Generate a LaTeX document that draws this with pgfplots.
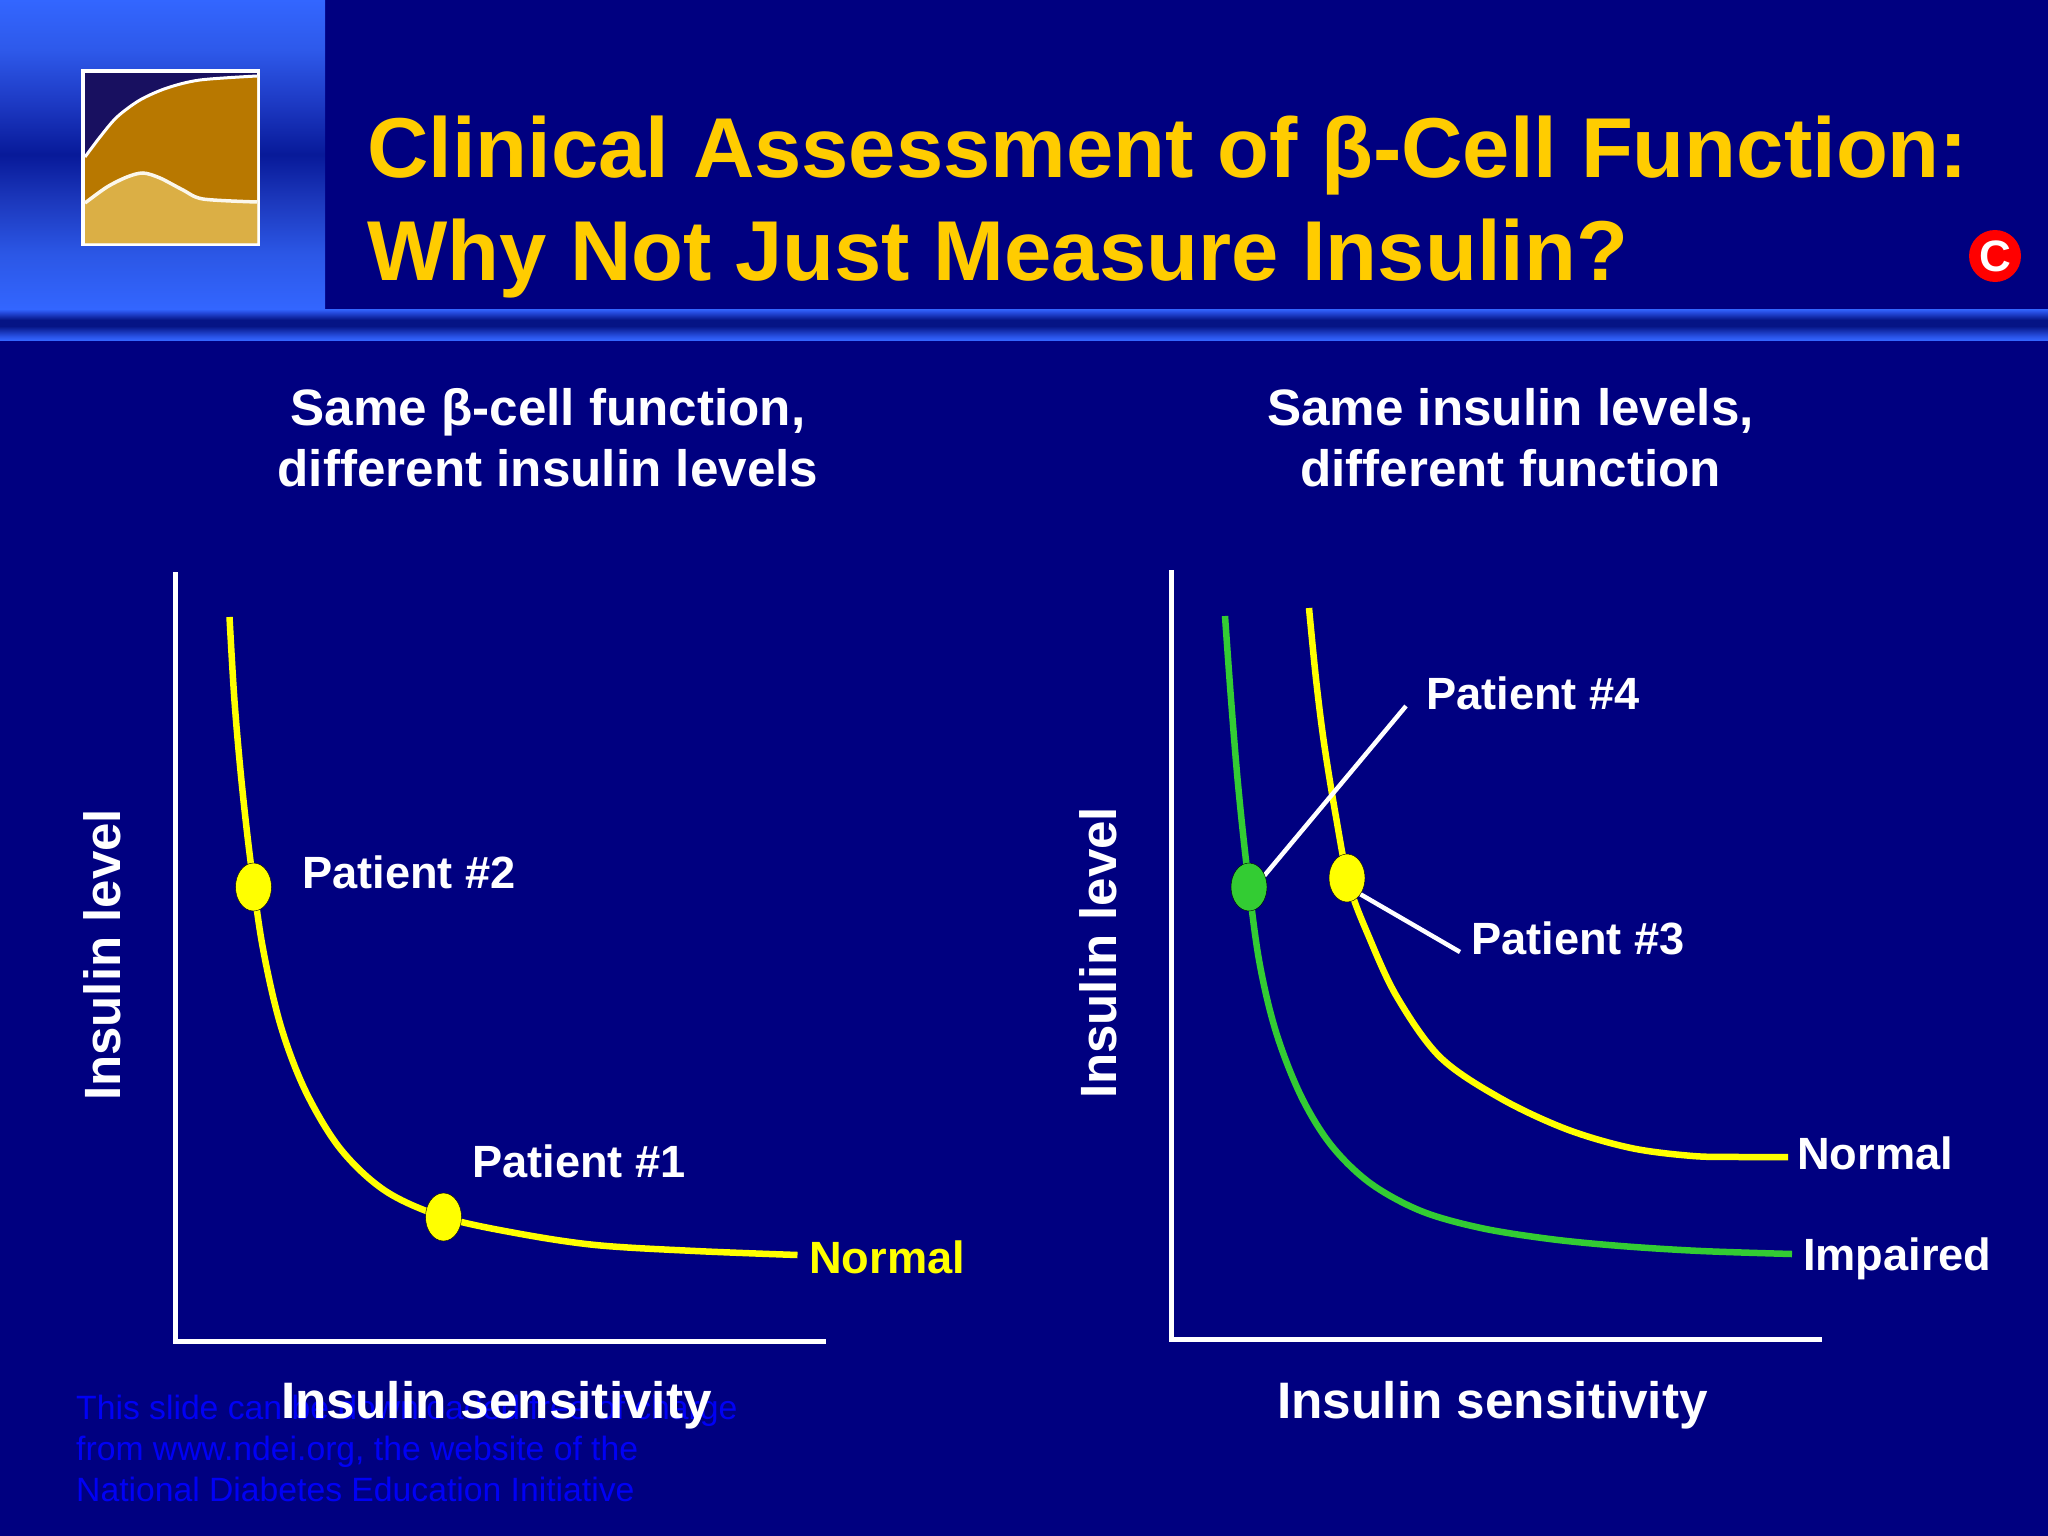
\documentclass[border=0pt]{standalone}
\usepackage{pgfplots}
\pgfplotsset{compat=1.18}
\usepackage{fontspec}
\setmainfont{Liberation Sans}
\definecolor{slidenavy}{RGB}{0,0,128}
\definecolor{titleyellow}{RGB}{255,204,0}
\definecolor{curveyellow}{RGB}{255,255,0}
\definecolor{curvegreen}{RGB}{51,204,51}
\definecolor{wm}{RGB}{0,0,245}
\definecolor{logodark}{RGB}{24,16,96}
\definecolor{logoorange}{RGB}{184,120,0}
\definecolor{logogold}{RGB}{219,175,69}
\pgfdeclareverticalshading{sidepanel}{100bp}{
  rgb(0bp)=(0.20,0.40,1.00);
  rgb(25bp)=(0.20,0.40,1.00);
  rgb(34bp)=(0.17,0.34,0.90);
  rgb(42.5bp)=(0.11,0.22,0.74);
  rgb(50bp)=(0.03,0.10,0.60);
  rgb(58bp)=(0.11,0.22,0.76);
  rgb(67bp)=(0.18,0.35,0.92);
  rgb(75bp)=(0.20,0.40,1.00);
  rgb(100bp)=(0.20,0.40,1.00)}
\pgfdeclareverticalshading{sideband}{100bp}{
  rgb(0bp)=(0.20,0.40,1.00);
  rgb(25bp)=(0.20,0.40,1.00);
  rgb(31bp)=(0.16,0.32,0.90);
  rgb(47.5bp)=(0.02,0.08,0.52);
  rgb(57.5bp)=(0.02,0.08,0.52);
  rgb(70bp)=(0.15,0.30,0.88);
  rgb(75bp)=(0.20,0.40,1.00);
  rgb(100bp)=(0.20,0.40,1.00)}
\newcommand{\fs}[1]{\fontsize{#1}{#1}\selectfont}
\pgfplotsset{
  slidepanel/.style={
    scale only axis, width=648pt, height=767pt,
    xmin=0, xmax=648, ymin=0, ymax=767,
    axis lines=left, ticks=none, clip=false,
    axis line style={-, white, line width=5pt, line cap=rect},
    every axis y label/.style={at={(axis cs:-55,386)}, anchor=base, rotate=90, font=\fs{51}\bfseries, text=white},
    xlabel={Insulin sensitivity}, ylabel={Insulin level},
  },
  curve/.style={no marks, smooth, tension=0.55, line width=6.5pt, line cap=butt},
  dot/.style={only marks, mark=*, mark size=24pt, mark options={xscale=0.75, draw=none, fill=#1}},
  leader/.style={no marks, white, line width=4.5pt},
}
\begin{document}
\begin{tikzpicture}
\useasboundingbox (0pt,0pt) rectangle (2048pt,-1536pt);
\begin{scope}[x=1pt,y=-1pt]
  \fill[slidenavy] (0,0) rectangle (2048,1536);
  \shade[shading=sidepanel] (0,0) rectangle (325,309);
  \shade[shading=sideband] (0,309) rectangle (2048,340);
  % logo
  \fill[white] (81,69) rectangle (260,246);
  \fill[logodark] (85,73) rectangle (257,243);
  \fill[logoorange] plot[smooth] coordinates {(85,157) (100,137) (117,117) (140,100) (167,88) (200,80) (257,76)} -- (257,243) -- (85,243) -- cycle;
  \draw[white, line width=3pt] plot[smooth] coordinates {(85,157) (100,137) (117,117) (140,100) (167,88) (200,80) (257,76)};
  \fill[logogold] plot[smooth] coordinates {(85,203) (107,187) (127,177) (143,173) (160,178) (183,190) (203,199) (257,202)} -- (257,243) -- (85,243) -- cycle;
  \draw[white!90!logogold, line width=3.5pt] plot[smooth] coordinates {(85,203) (107,187) (127,177) (143,173) (160,178) (183,190) (203,199) (257,202)};
  % title
  \node[anchor=base west, inner sep=0pt, text=titleyellow, font=\fs{85}\bfseries] at (367,178) {Clinical Assessment of β-Cell Function:};
  \node[anchor=base west, inner sep=0pt, text=titleyellow, font=\fs{85}\bfseries] at (367,280) {Why Not Just Measure Insulin?};
  % copyright badge
  \fill[red] (1995,256) circle (26);
  \node[text=white, inner sep=0pt, font=\fs{44}\bfseries] at (1995,256) {C};
  % watermark
  \node[anchor=base west, inner sep=0pt, text=wm, font=\fs{33.7}] at (76,1419.5) {This slide can be downloaded free of charge};
  \node[anchor=base west, inner sep=0pt, text=wm, font=\fs{33.7}] at (76,1460.5) {from www.ndei.org, the website of the};
  \node[anchor=base west, inner sep=0pt, text=wm, font=\fs{33.7}] at (76,1501.5) {National Diabetes Education Initiative};
  % subtitles
  \node[anchor=base, inner sep=0pt, text=white, font=\fs{51.2}\bfseries] at (548,425) {Same β-cell function,};
  \node[anchor=base, inner sep=0pt, text=white, font=\fs{51.2}\bfseries] at (548,486) {different insulin levels};
  \node[anchor=base, inner sep=0pt, text=white, font=\fs{51.2}\bfseries] at (1510.5,425) {Same insulin levels,};
  \node[anchor=base, inner sep=0pt, text=white, font=\fs{51.2}\bfseries] at (1510.5,486) {different function};
\end{scope}
% left panel
\begin{axis}[slidepanel, at={(175.5pt,-1341pt)}, anchor=origin,
    every axis x label/.style={at={(axis cs:321,-77)}, anchor=base, font=\fs{51.3}\bfseries, text=white}]
  \addplot[curve, curveyellow] coordinates {
    (54,724) (59,640) (66,560) (75,480) (87,395) (105,316) (130,250) (165,192)
    (210,150) (268,124) (340,108) (420,96) (520,90) (622,86)};
  \addplot[dot=curveyellow] coordinates {(78,454) (268,124)};
  \node[anchor=base west, inner sep=0pt, text=white, font=\fs{45.2}\bfseries] at (axis cs:126.5,453) {Patient \#2};
  \node[anchor=base west, inner sep=0pt, text=white, font=\fs{45.2}\bfseries] at (axis cs:296.5,164) {Patient \#1};
  \node[anchor=base west, inner sep=0pt, text=curveyellow, font=\fs{45.2}\bfseries] at (axis cs:633.5,68) {Normal};
\end{axis}
% right panel
\begin{axis}[slidepanel, at={(1171pt,-1339pt)}, anchor=origin,
    every axis x label/.style={at={(axis cs:321.5,-79.5)}, anchor=base, font=\fs{51.3}\bfseries, text=white}]
  \addplot[curve, curveyellow] coordinates {
    (138,731) (145,660) (153,596) (165,522) (178,455) (198,402) (226,342) (269,282)
    (329,241) (395,210) (460,191) (522,183) (570,182) (617,182)};
  \addplot[curve, curvegreen] coordinates {
    (54,723) (60,640) (67,555) (76,470) (88,379) (105,307) (130,243) (160,194)
    (199,156) (250,128) (310,111) (379,100) (450,93) (530,88) (621,85)};
  \addplot[leader] coordinates {(93,463) (235,633)};
  \addplot[leader] coordinates {(189,445) (289,387)};
  \addplot[dot=curvegreen] coordinates {(78,452)};
  \addplot[dot=curveyellow] coordinates {(176,461)};
  \node[anchor=base west, inner sep=0pt, text=white, font=\fs{45.2}\bfseries] at (axis cs:255,630) {Patient \#4};
  \node[anchor=base west, inner sep=0pt, text=white, font=\fs{45.2}\bfseries] at (axis cs:300,385) {Patient \#3};
  \node[anchor=base west, inner sep=0pt, text=white, font=\fs{45.2}\bfseries] at (axis cs:626,170) {Normal};
  \node[anchor=base west, inner sep=0pt, text=white, font=\fs{45.2}\bfseries] at (axis cs:632,69) {Impaired};
\end{axis}
\end{tikzpicture}
\end{document}
